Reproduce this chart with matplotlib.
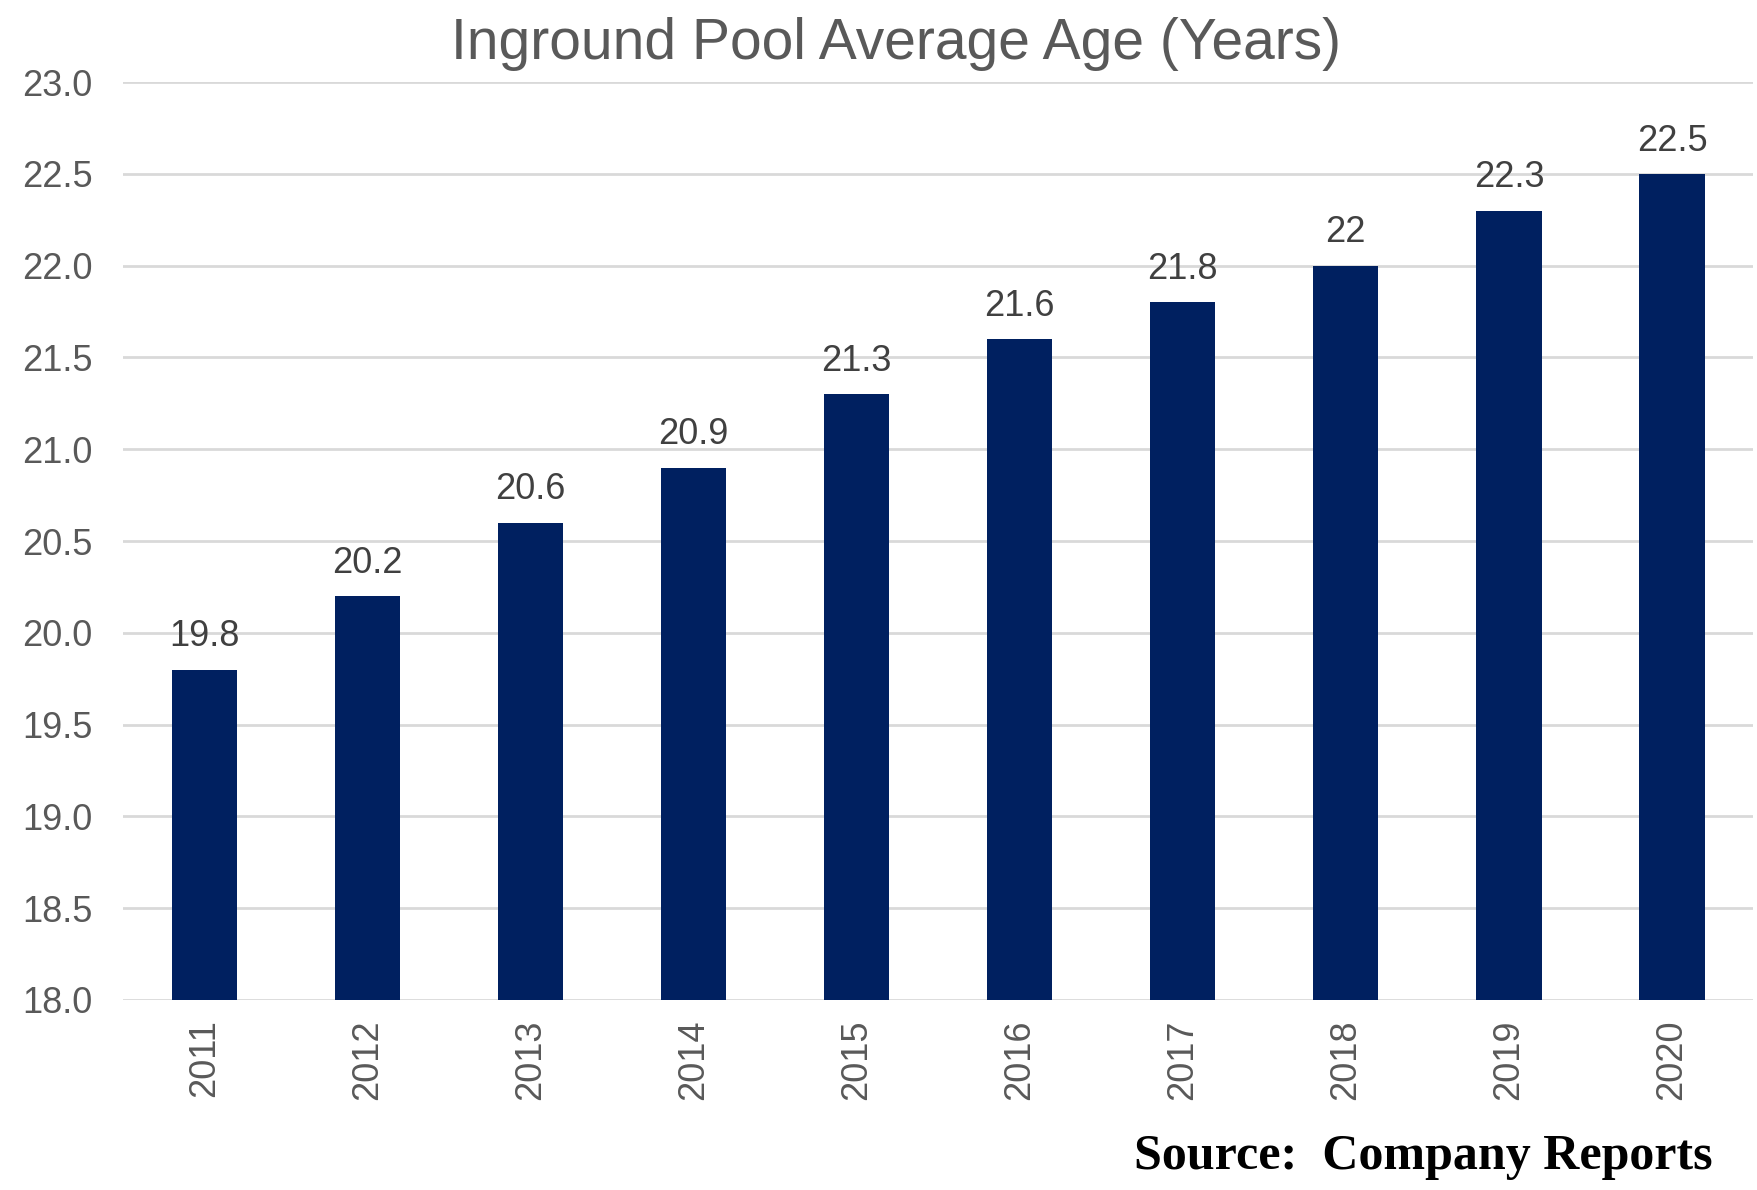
import matplotlib
matplotlib.use("Agg")
import matplotlib.pyplot as plt

# data
years = ["2011", "2012", "2013", "2014", "2015", "2016", "2017", "2018", "2019", "2020"]
avg_age = [19.8, 20.2, 20.6, 20.9, 21.3, 21.6, 21.8, 22.0, 22.3, 22.5]
bar_labels = ["19.8", "20.2", "20.6", "20.9", "21.3", "21.6", "21.8", "22", "22.3", "22.5"]
yticks = [18.0, 18.5, 19.0, 19.5, 20.0, 20.5, 21.0, 21.5, 22.0, 22.5, 23.0]

plt.rcParams['font.family'] = ['Liberation Sans', 'DejaVu Sans']

fig = plt.figure(figsize=(17.57, 11.90), dpi=100)
ax = fig.add_axes([0.070, 0.1597, 0.928, 0.7713])

x = range(len(years))
bars = ax.bar(x, avg_age, width=0.4, color='#002060', zorder=3)
ax.bar_label(bars, labels=bar_labels, padding=11, fontsize=26, color='#404040')

ax.set_xlim(-0.5, 9.5)
ax.set_ylim(18.0, 23.0)
ax.set_yticks(yticks)
ax.set_yticklabels([f"{v:.1f}" for v in yticks])
ax.set_xticks(list(x))
ax.set_xticklabels(years, rotation=90)

ax.yaxis.grid(True, color='#d9d9d9', linewidth=2, zorder=0)
for s in ax.spines.values():
    s.set_visible(False)
ax.tick_params(axis='both', length=0, labelsize=26, labelcolor='#595959')
ax.tick_params(axis='y', pad=22)
ax.tick_params(axis='x', pad=14)

fig.text(0.51, 0.963, "Inground Pool Average Age (Years)", ha='center', va='center',
         fontsize=41, color='#595959')
fig.text(0.975, 0.028, "Source:  Company Reports", ha='right', va='center',
         fontsize=36, fontweight='bold', family=['Liberation Serif', 'DejaVu Serif'],
         color='black')

fig.savefig("out.png", dpi=100)
